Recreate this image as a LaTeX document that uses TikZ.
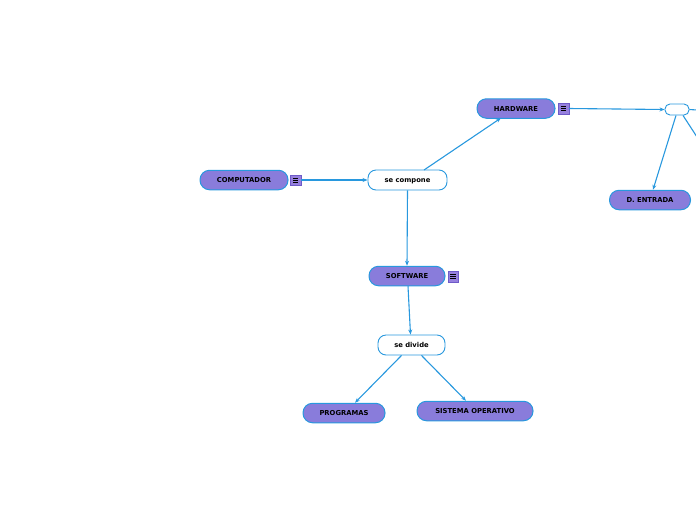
\documentclass[tikz,border=0pt]{standalone}
\usepackage{fontspec}
\setmainfont{DejaVu Sans}
\usetikzlibrary{arrows.meta}
\definecolor{pfill}{RGB}{137,124,219}
\definecolor{bline}{RGB}{40,152,222}
\definecolor{ifill}{RGB}{150,128,222}
\definecolor{iline}{RGB}{110,90,200}
\tikzset{
  x=1pt,y=-1pt,
  lbl/.style={font=\fontsize{6.8}{7}\selectfont\bfseries,text=black,text height=5pt,text depth=0pt},
  topic/.style={lbl,draw=bline,line width=1pt,fill=pfill,rounded corners=9.5pt,inner sep=0pt,
    minimum height=19.5pt},
  link/.style={lbl,draw=bline,line width=0.9pt,fill=white,rounded corners=8pt,inner sep=0pt,
    minimum height=20pt},
  note/.style={draw=iline,line width=0.4pt,fill=ifill,inner sep=0pt,minimum width=10.5pt,minimum height=10.5pt,
    path picture={\draw[black,line width=0.6pt]
      ([xshift=-2.6pt,yshift=2.2pt]path picture bounding box.center) -- ++(5.2pt,0)
      ([xshift=-2.6pt]path picture bounding box.center) -- ++(5.2pt,0)
      ([xshift=-2.6pt,yshift=-2.2pt]path picture bounding box.center) -- ++(5.2pt,0);}},
  conn/.style={draw=bline,line width=1.1pt,-{Stealth[length=5pt,width=4pt]}},
  plain/.style={draw=bline,line width=1.1pt}
}
\begin{document}
\begin{tikzpicture}
\useasboundingbox (0,0) rectangle (696,520);
\node[topic,minimum width=88pt] (comp) at (244,180) {COMPUTADOR};
\node[note] (compi) at (295.5,180) {};
\node[link,minimum width=79pt] (comp2) at (407.5,180) {se compone};
\node[topic,minimum width=78pt] (hard) at (516,108.5) {HARDWARE};
\node[note] (hardi) at (563.5,108.5) {};
\node[link,minimum width=24pt,minimum height=11pt,rounded corners=5pt] (hnode) at (677,109.5) {};
\node[topic,minimum width=81pt] (entr) at (650,200) {D. ENTRADA};
\node[topic,minimum width=76pt] (soft) at (407,276) {SOFTWARE};
\node[note] (softi) at (453,276.5) {};
\node[link,minimum width=67pt] (div) at (411.5,345) {se divide};
\node[topic,minimum width=82pt] (prog) at (344,413) {PROGRAMAS};
\node[topic,minimum width=116pt] (so) at (475,411) {SISTEMA OPERATIVO};
\coordinate (offa) at (697,110);
\coordinate (offb) at (697,137);
\coordinate (c1) at (424,170);
\coordinate (h1) at (501,118);

\draw[conn] (compi.east) -- (comp2.west);
\draw[conn] (c1) -- (h1);
\draw[conn] (hardi.east) -- (hnode.west);
\draw[conn] (comp2.south) -- (soft.north);
\draw[conn] ([xshift=1pt]soft.south) -- ([xshift=-1pt]div.north);
\draw[conn] ([xshift=-10pt]div.south) -- ([xshift=11pt]prog.north);
\draw[conn] ([xshift=10pt]div.south) -- ([xshift=-9pt]so.north);
\draw[conn] ([xshift=-1pt]hnode.south) -- ([xshift=3pt]entr.north);
\draw[plain] (hnode.east) -- (offa);
\draw[plain] ([xshift=6pt]hnode.south) -- (offb);
\end{tikzpicture}
\end{document}
